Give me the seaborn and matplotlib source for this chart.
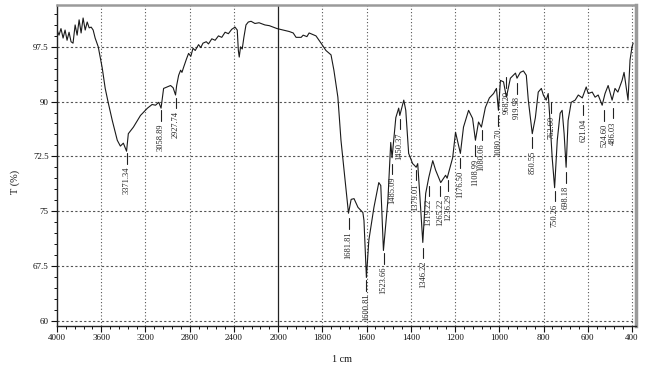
import numpy as np
import pandas as pd
import matplotlib
matplotlib.use("Agg")
import matplotlib.pyplot as plt
import seaborn as sns

# ---- spectrum data (wavenumber cm-1, transmittance %) ----
wavenumber = [4000, 3982, 3964, 3945, 3927, 3909, 3891, 3873, 3855, 3836, 3818, 3800, 3782, 3764,
              3745, 3727, 3709, 3691, 3673, 3655, 3627, 3591, 3564, 3536, 3500, 3455, 3427, 3400,
              3371, 3355, 3309, 3245, 3182, 3140, 3109, 3080, 3059, 3036, 2973, 2950, 2928, 2918,
              2900, 2882, 2870, 2855, 2830, 2810, 2790, 2770, 2750, 2720, 2700, 2680, 2650, 2630,
              2600, 2570, 2540, 2510, 2480, 2450, 2420, 2390, 2370, 2360, 2352, 2340, 2325, 2310,
              2291, 2270, 2245, 2210, 2173, 2120, 2080, 2045, 2010, 1977, 1950, 1932, 1919, 1896,
              1887, 1870, 1860, 1845, 1829, 1806, 1784, 1761, 1748, 1730, 1716, 1694, 1682, 1670,
              1657, 1639, 1617, 1612, 1601, 1590, 1567, 1545, 1536, 1524, 1504, 1491, 1485, 1468,
              1455, 1450, 1432, 1423, 1410, 1392, 1385, 1376, 1369, 1360, 1346, 1333, 1319, 1301,
              1288, 1265, 1243, 1236, 1211, 1198, 1176, 1162, 1139, 1121, 1108, 1094, 1081, 1063,
              1045, 1026, 1013, 1004, 995, 981, 968, 950, 927, 920, 905, 891, 878, 869, 851, 837,
              824, 810, 801, 788, 779, 770, 761, 750, 738, 725, 716, 707, 698, 689, 675, 657, 643,
              625, 607, 598, 580, 567, 553, 535, 522, 508, 490, 477, 464, 445, 436, 418, 409, 400, 395]
transmittance = [99.8, 99.1, 100.0, 98.7, 99.8, 98.4, 99.5, 98.2, 98.0, 100.5, 99.1, 101.2, 99.4, 101.45,
                 99.8, 100.9, 100.1, 100.2, 99.8, 98.7, 97.5, 94.6, 91.8, 89.8, 87.4, 84.7, 83.9, 84.3,
                 83.2, 85.6, 86.5, 88.1, 89.1, 89.6, 89.5, 89.9, 89.1, 91.8, 92.2, 91.9, 90.9, 92.2,
                 93.6, 94.3, 94.0, 94.7, 95.8, 96.6, 96.2, 97.3, 97.0, 97.8, 97.4, 98.0, 98.2, 97.9,
                 98.6, 98.4, 99.0, 98.8, 99.5, 99.3, 99.9, 100.2, 99.8, 97.0, 96.1, 97.5, 97.2, 98.8,
                 100.5, 100.9, 101.0, 100.7, 100.8, 100.5, 100.4, 100.2, 100.0, 99.8, 99.6, 99.4, 98.8, 98.8,
                 99.1, 98.9, 99.4, 99.2, 99.0, 98.0, 97.0, 96.4, 94.3, 90.6, 84.7, 78.2, 74.7, 76.6,
                 76.7, 75.5, 74.8, 73.7, 65.9, 71.0, 75.5, 78.9, 78.5, 69.6, 76.4, 84.4, 82.3, 87.8,
                 89.1, 88.1, 90.2, 88.8, 82.9, 81.5, 81.3, 81.0, 81.5, 77.4, 70.7, 77.4, 79.6, 81.9,
                 80.6, 78.9, 79.9, 79.5, 82.3, 85.8, 82.9, 86.5, 88.8, 87.7, 84.7, 87.2, 86.5, 89.2,
                 90.5, 91.1, 91.8, 88.8, 92.9, 92.7, 90.6, 93.2, 93.9, 93.2, 94.0, 94.2, 93.6, 90.2, 85.6, 87.8,
                 91.3, 91.8, 90.9, 90.2, 91.1, 87.0, 82.3, 78.2, 84.7, 88.4, 88.8, 85.6, 81.0, 87.4, 89.9, 90.2, 90.9,
                 90.5, 92.0, 91.1, 91.3, 90.6, 90.9, 89.5, 91.1, 92.2, 90.2, 91.8, 91.3, 92.9, 94.0, 90.2, 95.7, 97.5, 98.0]

# ---- peak annotations ----
peak_labels = ["3371.34", "3058.89", "2927.74", "1681.81", "1600.81", "1523.66", "1485.09",
               "1450.37", "1379.01", "1346.22", "1319.22", "1265.22", "1236.29", "1176.50",
               "1108.99", "1080.06", "1080.70", "968.20", "919.98", "850.55", "762.60",
               "750.26", "698.18", "621.04", "524.60", "486.03"]
peak_wn = [3371.34, 3058.89, 2927.74, 1681.81, 1600.81, 1523.66, 1485.09,
           1450.37, 1379.01, 1346.22, 1319.22, 1268.0, 1232.0, 1176.50,
           1108.99, 1080.06, 1004.0, 968.20, 919.98, 850.55, 765.0,
           750.26, 698.18, 621.04, 524.60, 486.03]
peak_mark_top = [82.9, 88.8, 90.5, 74.0, 65.5, 69.2, 81.5,
                 87.6, 80.6, 70.0, 78.5, 78.5, 79.2, 82.3,
                 84.0, 86.1, 88.1, 93.3, 92.5, 85.1, 89.9,
                 77.8, 80.3, 89.5, 88.8, 89.1]

x_ticks = [4000, 3600, 3200, 2800, 2400, 2000, 1800, 1600, 1400, 1200, 1000, 800, 600, 400]
y_ticks = [60, 67.5, 75, 82.5, 90, 97.5]
y_tick_labels = ["60", "67.5", "75", "72.5", "90", "97.5"]

df = pd.DataFrame({"wavenumber": wavenumber, "T": transmittance})

sns.set_theme(style="white")
plt.rcParams["font.family"] = ["Liberation Serif", "DejaVu Serif"]

fig = plt.figure(figsize=(6.45, 3.68), dpi=100)
ax = fig.add_axes([57 / 645, 42 / 368, (636 - 57) / 645, (326 - 4.5) / 368])


def fwd(w):
    w = np.asarray(w, dtype=float)
    return np.where(w >= 2000, w, 2 * w - 2000)


def inv(v):
    v = np.asarray(v, dtype=float)
    return np.where(v >= 2000, v, (v + 2000) / 2)


ax.set_xscale("function", functions=(fwd, inv))

sns.lineplot(data=df, x="wavenumber", y="T", sort=False, estimator=None,
             color="#1a1a1a", linewidth=0.8, ax=ax)

ax.set_xlim(4000, 382)
ax.set_ylim(59.25, 103.3)

ax.set_xticks(x_ticks)
ax.set_xticklabels([str(t) for t in x_ticks])
minor_x = list(np.arange(4000, 2000, -80)) + list(np.arange(2000, 380, -40))
ax.set_xticks(minor_x, minor=True)
ax.set_yticks(y_ticks)
ax.set_yticklabels(y_tick_labels)
ax.set_yticks(np.arange(60, 103.3, 1.5), minor=True)

ax.tick_params(axis="both", which="major", direction="out", length=4, width=0.8,
               labelsize=6.5, colors="#111111", pad=2, bottom=True, left=True)
ax.tick_params(axis="both", which="minor", direction="out", length=2.5, width=0.7,
               bottom=True, left=True, colors="#111111")

# grid
for xv in x_ticks:
    if xv == 2000:
        ax.axvline(xv, color="#222222", linewidth=0.9, zorder=0)
    elif xv != 4000:
        ax.axvline(xv, color="#555555", linewidth=0.8, linestyle=(0, (1, 2)), zorder=0)
for yv in y_ticks:
    ax.axhline(yv, color="#555555", linewidth=0.8, linestyle=(0, (2, 2)), zorder=0)

for side in ["left", "bottom"]:
    ax.spines[side].set_color("#222222")
    ax.spines[side].set_linewidth(1.0)
ax.spines["top"].set_color("#9a9a9a")
ax.spines["top"].set_linewidth(1.8)
ax.spines["right"].set_color("#9a9a9a")
ax.spines["right"].set_linewidth(2.5)

ax.set_xlabel("")
ax.set_ylabel("")

# peak labels
for lab, wn, top in zip(peak_labels, peak_wn, peak_mark_top):
    ax.plot([wn, wn], [top, top - 1.4], color="#222222", linewidth=0.8)
    ax.text(wn, top - 1.8, lab, rotation=90, ha="center", va="top",
            fontsize=6.0, color="#222222")

fig.text(15 / 645, 1 - 182 / 368, "T (%)", rotation=90, ha="center", va="center",
         fontsize=7.5, color="#111111")
fig.text(342 / 645, 1 - 359 / 368, "1 cm", ha="center", va="center",
         fontsize=7.3, color="#111111")

fig.savefig("out.png", dpi=100)
